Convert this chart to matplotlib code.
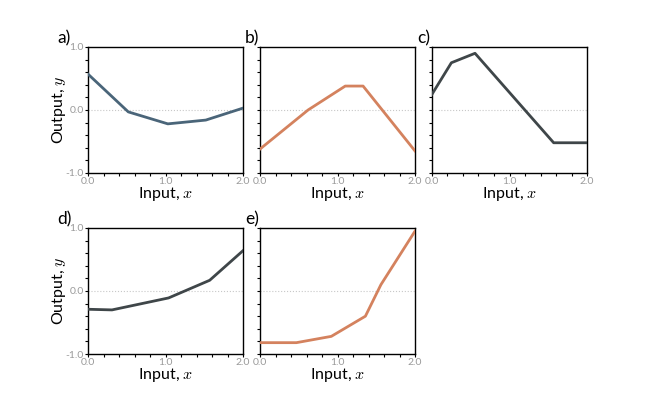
import numpy as np
import matplotlib
matplotlib.use("Agg")
import matplotlib.pyplot as plt
from matplotlib.ticker import MultipleLocator, FormatStrFormatter

plt.rcParams['font.family'] = ['Lato', 'DejaVu Sans']
plt.rcParams['mathtext.fontset'] = 'cm'

# piecewise linear outputs
a_x = [0.0, 0.52, 1.03, 1.52, 2.0]
a_y = [0.57, -0.03, -0.22, -0.16, 0.03]
b_x = [0.0, 0.62, 1.10, 1.33, 2.0]
b_y = [-0.62, 0.0, 0.38, 0.38, -0.65]
c_x = [0.0, 0.25, 0.555, 1.57, 2.0]
c_y = [0.25, 0.75, 0.90, -0.52, -0.52]
d_x = [0.0, 0.31, 1.04, 1.57, 2.0]
d_y = [-0.29, -0.30, -0.11, 0.17, 0.64]
e_x = [0.0, 0.47, 0.92, 1.36, 1.56, 2.0]
e_y = [-0.82, -0.82, -0.72, -0.40, 0.10, 0.95]

blue = '#4a6579'
orange = '#d4825e'
dark = '#3f4649'

# label, data, colour, axes top-left in pixels, label offset
panels = [
    ('a)', a_x, a_y, blue, (88, 47), 31),
    ('b)', b_x, b_y, orange, (260, 47), 15),
    ('c)', c_x, c_y, dark, (432, 47), 15),
    ('d)', d_x, d_y, dark, (88, 228), 31),
    ('e)', e_x, e_y, orange, (260, 228), 15),
]

W, H = 646, 403
fig = plt.figure(figsize=(W / 100, H / 100), dpi=100)

for label, xs, ys, col, (px, py), off in panels:
    ax = fig.add_axes([px / W, 1 - (py + 126) / H, 155 / W, 126 / H])
    ax.plot(xs, ys, color=col, lw=2.0, zorder=3)
    ax.axhline(0, color='#c8c8c8', lw=0.8, ls=':', zorder=1)
    ax.set_xlim(0, 2)
    ax.set_ylim(-1, 1)
    ax.xaxis.set_major_locator(MultipleLocator(1.0))
    ax.xaxis.set_minor_locator(MultipleLocator(0.2))
    ax.yaxis.set_major_locator(MultipleLocator(1.0))
    ax.yaxis.set_minor_locator(MultipleLocator(0.2))
    ax.tick_params(which='both', direction='out', length=2, width=0.8,
                   labelsize=7.5, labelcolor='#9a9a9a', pad=1)
    for s in ax.spines.values():
        s.set_linewidth(1.0)
    ax.xaxis.set_major_formatter(FormatStrFormatter('%.1f'))
    ax.yaxis.set_major_formatter(FormatStrFormatter('%.1f'))
    ax.set_xlabel('Input, $x$', fontsize=11.5, labelpad=-1)
    if px == 88:
        ax.set_ylabel('Output, $y$', fontsize=11.5, labelpad=-2)
    else:
        ax.set_yticklabels([])
    fig.text((px - off) / W, 1 - (py - 9) / H, label, fontsize=12.5,
             ha='left', va='center')

fig.savefig('out.png', dpi=100)
